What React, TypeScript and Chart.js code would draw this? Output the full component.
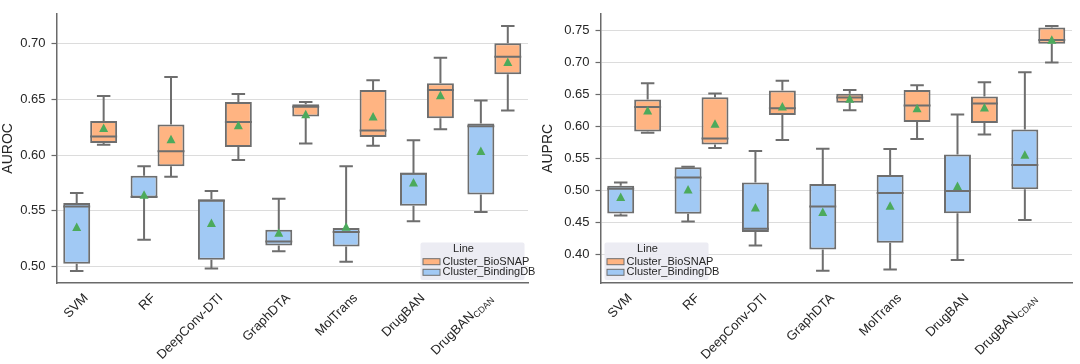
import React, { useEffect, useRef } from 'react';
import { Chart, registerables } from 'chart.js';
Chart.register(...registerables);

// ---------------- data ----------------
const categories = ['SVM', 'RF', 'DeepConv-DTI', 'GraphDTA', 'MolTrans', 'DrugBAN', 'DrugBAN_CDAN'];
const labelMain = ['SVM', 'RF', 'DeepConv-DTI', 'GraphDTA', 'MolTrans', 'DrugBAN', 'DrugBAN'];
const labelSub = ['', '', '', '', '', '', 'CDAN'];

const seriesNames = ['Cluster_BindingDB', 'Cluster_BioSNAP'];
const legendTitle = 'Line';
const legendNames = ['Cluster_BioSNAP', 'Cluster_BindingDB'];

// rows: [whiskerLow, q1, median, q3, whiskerHigh, mean]
const aurocBindingDB = [
  [0.496, 0.5026, 0.554, 0.557, 0.566, 0.535],
  [0.524, 0.562, 0.5625, 0.5816, 0.590, 0.564],
  [0.4982, 0.5061, 0.559, 0.5605, 0.5678, 0.5386],
  [0.5137, 0.519, 0.5225, 0.533, 0.5608, 0.530],
  [0.5044, 0.518, 0.531, 0.5347, 0.590, 0.5353],
  [0.5406, 0.5546, 0.5833, 0.5842, 0.6134, 0.575],
  [0.5491, 0.5646, 0.626, 0.6283, 0.6491, 0.6032],
];
const aurocBioSNAP = [
  [0.6093, 0.6108, 0.6167, 0.6307, 0.653, 0.624],
  [0.5807, 0.590, 0.6035, 0.6275, 0.670, 0.6137],
  [0.5956, 0.6073, 0.6298, 0.6476, 0.6549, 0.6263],
  [0.6105, 0.6347, 0.6435, 0.6456, 0.6476, 0.6362],
  [0.6084, 0.6163, 0.6222, 0.6584, 0.6672, 0.6342],
  [0.6233, 0.633, 0.6584, 0.6646, 0.6874, 0.6532],
  [0.640, 0.6725, 0.6882, 0.7003, 0.7158, 0.683],
];
const auprcBindingDB = [
  [0.4615, 0.4646, 0.5032, 0.5078, 0.5129, 0.4895],
  [0.4519, 0.4641, 0.521, 0.5368, 0.5378, 0.5012],
  [0.4147, 0.4356, 0.4406, 0.513, 0.5623, 0.4733],
  [0.375, 0.4081, 0.4753, 0.5108, 0.5658, 0.4661],
  [0.3771, 0.4188, 0.4966, 0.5246, 0.5653, 0.4758],
  [0.3918, 0.4651, 0.4997, 0.5566, 0.6192, 0.5068],
  [0.4544, 0.5023, 0.5404, 0.5958, 0.6854, 0.5557],
];
const auprcBioSNAP = [
  [0.5908, 0.5928, 0.631, 0.6427, 0.668, 0.6248],
  [0.5669, 0.5725, 0.5817, 0.6462, 0.6523, 0.604],
  [0.5795, 0.6187, 0.629, 0.6569, 0.6722, 0.631],
  [0.6259, 0.6376, 0.6458, 0.6518, 0.6574, 0.6432],
  [0.581, 0.6076, 0.6335, 0.6574, 0.665, 0.6284],
  [0.5882, 0.606, 0.6366, 0.6473, 0.6696, 0.6294],
  [0.7007, 0.7297, 0.7358, 0.7551, 0.7576, 0.7352],
];

const aurocTicks = [0.5, 0.55, 0.6, 0.65, 0.7];
const auprcTicks = [0.4, 0.45, 0.5, 0.55, 0.6, 0.65, 0.7, 0.75];
const aurocRange = [0.4853, 0.7268];
const auprcRange = [0.3559, 0.7767];

// ---------------- style ----------------
const FONT = "'Liberation Sans', Arial, Helvetica, sans-serif";
const BLUE = '#a1c9f4';
const ORANGE = '#ffb482';
const EDGE = '#6e6e6e';
const AXIS = '#6a6a6a';
const GRID = '#dcdcdc';
const TEXT = '#262626';
const MEAN = '#4caa5c';
const COLORS = [BLUE, ORANGE];

type PanelCfg = {
  left: number;
  areaLeft: number;
  padRight: number;
  title: string;
  ticks: number[];
  range: number[];
  stats: number[][][];
  legendX: number;
};

const panels: PanelCfg[] = [
  { left: 0, areaLeft: 56.5, padRight: 12, title: 'AUROC', ticks: aurocTicks, range: aurocRange, stats: [aurocBindingDB, aurocBioSNAP], legendX: 420.5 },
  { left: 540, areaLeft: 60.5, padRight: 8, title: 'AUPRC', ticks: auprcTicks, range: auprcRange, stats: [auprcBindingDB, auprcBioSNAP], legendX: 64.5 },
];

function makePlugin(cfg: PanelCfg) {
  return {
    id: 'boxExtras',
    afterDatasetsDraw(chart: any) {
      const ctx = chart.ctx;
      const ys = chart.scales.y;
      ctx.save();
      cfg.stats.forEach((rows, di) => {
        const meta = chart.getDatasetMeta(di);
        meta.data.forEach((el: any, j: number) => {
          const [lo, q1, med, q3, hi] = rows[j];
          const x = el.x;
          const w = el.width;
          ctx.strokeStyle = EDGE;
          ctx.lineWidth = 2;
          ctx.lineCap = 'butt';
          ctx.beginPath();
          ctx.moveTo(x, ys.getPixelForValue(q3));
          ctx.lineTo(x, ys.getPixelForValue(hi));
          ctx.moveTo(x - w / 4, ys.getPixelForValue(hi));
          ctx.lineTo(x + w / 4, ys.getPixelForValue(hi));
          ctx.moveTo(x, ys.getPixelForValue(q1));
          ctx.lineTo(x, ys.getPixelForValue(lo));
          ctx.moveTo(x - w / 4, ys.getPixelForValue(lo));
          ctx.lineTo(x + w / 4, ys.getPixelForValue(lo));
          ctx.moveTo(x - w / 2, ys.getPixelForValue(med));
          ctx.lineTo(x + w / 2, ys.getPixelForValue(med));
          ctx.stroke();
        });
      });
      // means
      cfg.stats.forEach((rows, di) => {
        const meta = chart.getDatasetMeta(di);
        meta.data.forEach((el: any, j: number) => {
          const mean = rows[j][5];
          const x = el.x;
          const y = ys.getPixelForValue(mean);
          ctx.fillStyle = MEAN;
          ctx.beginPath();
          ctx.moveTo(x, y - 5);
          ctx.lineTo(x + 4.5, y + 3.5);
          ctx.lineTo(x - 4.5, y + 3.5);
          ctx.closePath();
          ctx.fill();
        });
      });
      ctx.restore();
    },
    afterDraw(chart: any) {
      const ctx = chart.ctx;
      const xs = chart.scales.x;
      const bottom = chart.chartArea.bottom;
      ctx.save();
      // x labels
      ctx.fillStyle = TEXT;
      categories.forEach((_, j) => {
        const cx = xs.getPixelForValue(j);
        ctx.save();
        ctx.translate(cx - 4, bottom + 13);
        ctx.rotate(-Math.PI / 4);
        ctx.textAlign = 'right';
        ctx.textBaseline = 'middle';
        let subW = 0;
        if (labelSub[j]) {
          ctx.font = `9px ${FONT}`;
          subW = ctx.measureText(labelSub[j]).width;
          ctx.fillText(labelSub[j], 0, 4);
        }
        ctx.font = `13px ${FONT}`;
        ctx.fillText(labelMain[j], -subW, 0);
        ctx.restore();
      });
      // legend
      const x0 = cfg.legendX;
      const y0 = 242.5;
      const w = 104;
      const h = 37.5;
      ctx.fillStyle = 'rgba(234,234,242,0.92)';
      ctx.beginPath();
      const r = 2;
      ctx.moveTo(x0 + r, y0);
      ctx.lineTo(x0 + w - r, y0);
      ctx.quadraticCurveTo(x0 + w, y0, x0 + w, y0 + r);
      ctx.lineTo(x0 + w, y0 + h - r);
      ctx.quadraticCurveTo(x0 + w, y0 + h, x0 + w - r, y0 + h);
      ctx.lineTo(x0 + r, y0 + h);
      ctx.quadraticCurveTo(x0, y0 + h, x0, y0 + h - r);
      ctx.lineTo(x0, y0 + r);
      ctx.quadraticCurveTo(x0, y0, x0 + r, y0);
      ctx.fill();
      ctx.font = `11px ${FONT}`;
      ctx.textBaseline = 'middle';
      ctx.textAlign = 'center';
      ctx.fillStyle = TEXT;
      ctx.fillText(legendTitle, x0 + 43, y0 + 6.8);
      legendNames.forEach((name, k) => {
        const yy = y0 + 19.2 + k * 10.6;
        const color = name === seriesNames[0] ? BLUE : ORANGE;
        ctx.fillStyle = color;
        ctx.fillRect(x0 + 2.5, yy - 3, 17, 6);
        ctx.strokeStyle = EDGE;
        ctx.lineWidth = 1;
        ctx.strokeRect(x0 + 2.5, yy - 3, 17, 6);
        ctx.fillStyle = TEXT;
        ctx.textAlign = 'left';
        ctx.fillText(name, x0 + 22, yy);
      });
      ctx.restore();
    },
  };
}

function Panel({ cfg }: { cfg: PanelCfg }) {
  const ref = useRef<HTMLCanvasElement>(null);
  useEffect(() => {
    if (!ref.current) return;
    const chart = new Chart(ref.current, {
      type: 'bar',
      data: {
        labels: categories,
        datasets: cfg.stats.map((rows, di) => ({
          label: seriesNames[di],
          data: rows.map((r) => [r[1], r[3]]),
          backgroundColor: COLORS[di],
          borderColor: EDGE,
          borderWidth: 2,
          borderSkipped: false,
          categoryPercentage: 0.8,
          barPercentage: 1.0,
        })) as any,
      },
      options: {
        animation: false,
        responsive: false,
        devicePixelRatio: 1,
        layout: { padding: { left: 0, right: cfg.padRight, top: 8, bottom: 0 } },
        plugins: { legend: { display: false }, tooltip: { enabled: false } },
        scales: {
          x: {
            type: 'category',
            offset: true,
            grid: { display: false },
            border: { display: true, color: AXIS, width: 1.5 },
            ticks: { display: false },
            afterFit: (s: any) => { s.height = 81; },
          },
          y: {
            type: 'linear',
            min: cfg.range[0],
            max: cfg.range[1],
            afterBuildTicks: (s: any) => { s.ticks = cfg.ticks.map((v) => ({ value: v })); },
            ticks: {
              callback: (v: any) => Number(v).toFixed(2),
              font: { family: FONT, size: 13 },
              color: TEXT,
              padding: 6,
            },
            grid: { color: GRID, lineWidth: 1, tickLength: 5, tickColor: AXIS, drawTicks: true, tickWidth: 1.2 },
            border: { display: true, color: AXIS, width: 1.5 },
            title: { display: true, text: cfg.title, font: { family: FONT, size: 14 }, color: TEXT, padding: { top: 0, bottom: 0 } },
            afterFit: (s: any) => { s.width = cfg.areaLeft; },
          },
        },
      } as any,
      plugins: [makePlugin(cfg) as any],
    });
    return () => chart.destroy();
  }, [cfg]);
  return (
    <canvas
      ref={ref}
      width={540}
      height={364}
      style={{ position: 'absolute', left: cfg.left, top: 0, width: 540, height: 364 }}
    />
  );
}

export default function App() {
  return (
    <div style={{ position: 'fixed', left: 0, top: 0, width: 1080, height: 364, background: '#ffffff', overflow: 'hidden' }}>
      {panels.map((p, i) => (
        <Panel key={i} cfg={p} />
      ))}
    </div>
  );
}
